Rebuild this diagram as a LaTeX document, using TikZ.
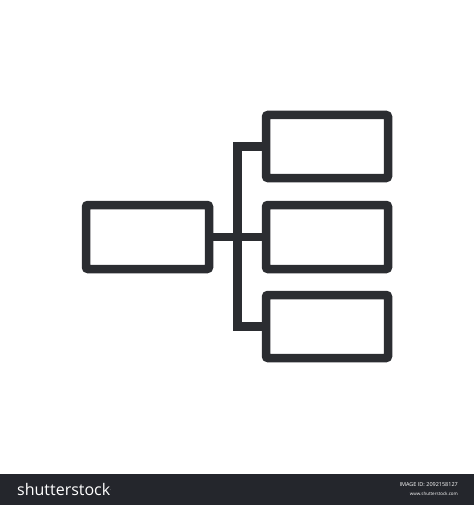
\documentclass[tikz,border=0pt]{standalone}
\usepackage{fontspec}
\setmainfont{Open Sans}
\begin{document}
\begin{tikzpicture}[x=1pt,y=-1pt,
  box/.style={draw=ink, line width=8.5pt, rounded corners=2pt, inner sep=0pt, outer sep=0pt},
  link/.style={draw=ink, line width=8.5pt},
  bartext/.style={text=white, inner sep=0pt, font=\sffamily}]
\definecolor{ink}{HTML}{2B2D31}
\definecolor{bar}{HTML}{24262C}
\useasboundingbox[fill=white] (0,0) rectangle (474,505);
% boxes
\node[box, minimum width=123pt, minimum height=64pt] (l) at (147.5,237) {};
\node[box, minimum width=122pt, minimum height=63pt] (t) at (327,146.5) {};
\node[box, minimum width=122pt, minimum height=64pt] (m) at (327,237) {};
\node[box, minimum width=122pt, minimum height=63pt] (b) at (327,326.5) {};
% connectors
\coordinate (jt) at (237.5,146.5);
\coordinate (jb) at (237.5,326.5);
\draw[link] (l.east) -- (m.west);
\draw[link] (t.west) -- (jt) -- (jb) -- (b.west);
% bottom bar
\fill[bar] (0,474) rectangle (474,505);
\node[bartext, anchor=west, font=\fontsize{16}{16}\selectfont] (logo) at (17,489) {shutterstock\raisebox{0.5ex}{\fontsize{4}{4}\selectfont .}};
\node[bartext, anchor=east, font=\fontsize{5.5}{6}\selectfont] (id) at (458,485) {IMAGE ID: 2092158127};
\node[bartext, anchor=east, font=\fontsize{4.5}{5}\selectfont] (www) at (458,494) {www.shutterstock.com};
\end{tikzpicture}
\end{document}
